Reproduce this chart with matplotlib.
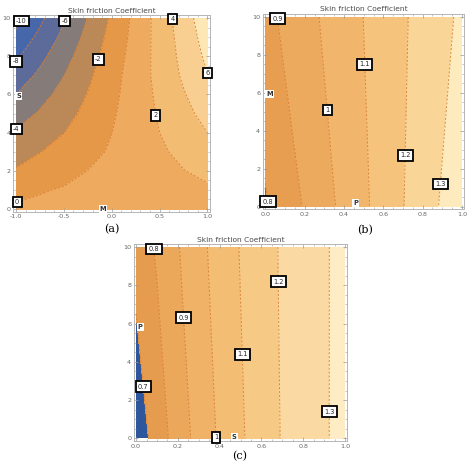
import numpy as np
import matplotlib.pyplot as plt
from matplotlib.ticker import MultipleLocator, FormatStrFormatter

plt.rcParams['axes.unicode_minus'] = False

# (a) skin friction over x in [-1, 1], y in [0, 10]
a_x = [-1.0, -0.75, -0.5, -0.25, 0.0, 0.25, 0.5, 0.75, 1.0]
a_y = [0, 1, 2, 3, 4, 5, 6, 7, 8, 9, 10]
a_z = [
    [0.40, 0.46, 0.53, 0.59, 0.65, 0.71, 0.78, 0.84, 0.90],
    [-0.75, -0.15, 0.15, 0.38, 0.60, 0.85, 1.12, 1.41, 1.71],
    [-1.85, -1.20, -0.62, 0.02, 0.45, 0.90, 1.41, 1.95, 2.49],
    [-2.85, -2.06, -1.30, -0.50, 0.20, 0.95, 1.71, 2.48, 3.25],
    [-3.80, -2.92, -2.03, -1.03, -0.02, 0.99, 1.99, 3.00, 4.00],
    [-4.90, -3.80, -2.70, -1.48, -0.25, 0.98, 2.20, 3.43, 4.65],
    [-6.00, -4.69, -3.37, -1.93, -0.49, 0.96, 2.40, 3.85, 5.29],
    [-7.15, -5.60, -4.04, -2.38, -0.72, 0.95, 2.61, 4.28, 5.94],
    [-8.30, -6.53, -4.76, -2.90, -1.04, 0.82, 2.68, 4.54, 6.40],
    [-9.50, -7.50, -5.48, -3.43, -1.37, 0.68, 2.74, 4.79, 6.85],
    [-10.70, -8.45, -6.20, -3.95, -1.70, 0.55, 2.80, 5.05, 7.30],
]
a_levels = [-10, -8, -6, -4, -2, 0, 2, 4, 6]
a_label_pos = [(-0.93, 9.8), (-0.99, 7.6), (-0.48, 9.82), (-0.98, 4.1),
               (-0.14, 7.85), (-0.99, 0.4), (0.43, 4.88), (0.63, 9.95), (1.0, 6.95)]

# (b) skin friction over x in [0, 1], y in [0, 10]
b_x = [0.0, 0.2, 0.4, 0.6, 0.8, 1.0]
b_y = [0, 10]
b_z = [
    [0.790, 0.908, 1.025, 1.140, 1.254, 1.368],
    [0.871, 0.967, 1.057, 1.145, 1.232, 1.318],
]
b_levels = [0.8, 0.9, 1.0, 1.1, 1.2, 1.3]
b_label_pos = [(0.01, 0.25), (0.05, 9.9), (0.31, 5.1), (0.5, 7.5), (0.7, 2.7), (0.88, 1.2)]

# (c) skin friction over x in [0, 1], y in [0, 10]
c_x = [0.0, 0.1, 0.2, 0.3, 0.4, 0.5, 0.6, 0.7, 0.8, 0.9, 1.0]
c_y = [0, 10]
c_z = [
    [0.635, 0.745, 0.846, 0.934, 1.014, 1.087, 1.149, 1.206, 1.248, 1.290, 1.331],
    [0.735, 0.812, 0.894, 0.971, 1.041, 1.105, 1.160, 1.211, 1.250, 1.290, 1.330],
]
c_levels = [0.7, 0.8, 0.9, 1.0, 1.1, 1.2, 1.3]
c_label_pos = [(0.03, 2.7), (0.09, 9.9), (0.22, 6.3), (0.38, 0.05), (0.51, 4.4), (0.67, 8.2), (0.93, 1.4)]

a_colors = ['#3d5ea8', '#4767ab', '#5d6b9b', '#857b78', '#bb8858', '#e49848',
            '#eeaa5e', '#f3bc73', '#f8cf91', '#fde7b4']
b_colors = ['#5a6a8c', '#e79e50', '#ecaa5e', '#f1b66b', '#f5c37c', '#f9d597', '#fdebbd']
c_colors = ['#2d569c', '#e69c4e', '#eba75a', '#efb266', '#f3bd73', '#f6c985', '#fadaa2', '#fdecc4']

fig = plt.figure(figsize=(4.74, 4.66), dpi=100)


def panel(rect, xs, ys, zs, levels, colors, label_pos, xlim, xmajor, xminor, marks, caption, cap_xy):
    ax = fig.add_axes(rect)
    X, Y = np.meshgrid(xs, ys)
    Z = np.array(zs)
    ax.contourf(X, Y, Z, levels=levels, colors=colors, extend='both')
    cs = ax.contour(X, Y, Z, levels=levels, colors='#d77a30', linewidths=0.7,
                    linestyles=[(0, (2.2, 1.8))] * len(levels), alpha=0.85)
    labels = ax.clabel(cs, fmt=lambda v: f'{v:g}', fontsize=4.8, inline=False,
                       manual=label_pos, colors='black')
    for t in labels:
        t.set_rotation(0)
        t.set_clip_on(False)
        t.set_zorder(5)
        t.set_bbox(dict(boxstyle='square,pad=0.35', facecolor='white',
                        edgecolor='black', linewidth=1.3))
    ax.set_xlim(*xlim)
    ax.set_ylim(-0.14, 10.16)
    ax.xaxis.set_major_locator(MultipleLocator(xmajor))
    ax.xaxis.set_minor_locator(MultipleLocator(xminor))
    ax.yaxis.set_major_locator(MultipleLocator(2))
    ax.yaxis.set_minor_locator(MultipleLocator(0.5))
    ax.xaxis.set_major_formatter(FormatStrFormatter('%.1f'))
    ax.tick_params(which='both', direction='in', top=True, right=True,
                   color='#9a9a9a', labelcolor='#666666', labelsize=4.6, pad=2)
    ax.tick_params(which='major', length=3, width=0.5)
    ax.tick_params(which='minor', length=1.6, width=0.4)
    for s in ax.spines.values():
        s.set_color('#b5b5b5')
        s.set_linewidth(0.7)
    ax.set_title('Skin friction Coefficient', fontsize=5.4, color='#4a4a4a', pad=1.8)
    # parameter letters written on the frame
    for name, (tx, ty) in marks:
        ax.text(tx, ty, name, fontsize=4.8, fontweight='bold', color='#333333',
                ha='center', va='center', zorder=6, clip_on=False,
                bbox=dict(boxstyle='square,pad=0.15', facecolor='white', edgecolor='none'))
    fig.text(cap_xy[0], cap_xy[1], caption, fontsize=8, family='DejaVu Serif',
             ha='center', va='center')
    return ax


panel([0.0281, 0.5457, 0.415, 0.422], a_x, a_y, a_z, a_levels, a_colors, a_label_pos,
      (-1.028, 1.028), 0.5, 0.1, [('S', (-0.97, 5.9)), ('M', (-0.09, 0.02))],
      '(a)', (112 / 474, 1 - 229 / 466))

panel([0.5549, 0.5509, 0.4247, 0.4191], b_x, b_y, b_z, b_levels, b_colors, b_label_pos,
      (-0.012, 1.012), 0.2, 0.05, [('M', (0.02, 5.96)), ('P', (0.46, 0.18))],
      '(b)', (365 / 474, 1 - 230 / 466))

panel([0.2827, 0.0536, 0.45, 0.4227], c_x, c_y, c_z, c_levels, c_colors, c_label_pos,
      (-0.01, 1.011), 0.2, 0.05, [('P', (0.02, 5.82)), ('S', (0.47, 0.05))],
      '(c)', (240 / 474, 1 - 456 / 466))

fig.savefig('out.png', dpi=100)
